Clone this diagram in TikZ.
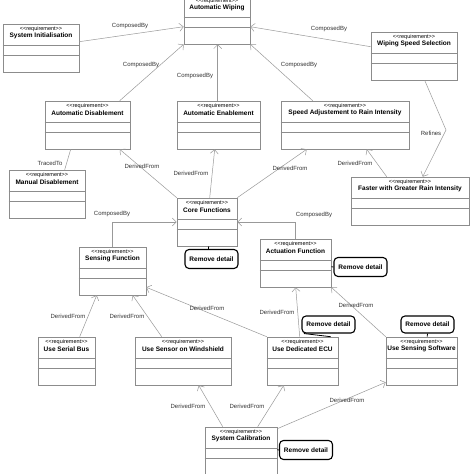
\documentclass[tikz,border=0pt]{standalone}
\usepackage{fontspec}
\setmainfont{Liberation Sans}
\usetikzlibrary{arrows.meta,calc}
\definecolor{boxgray}{HTML}{8C8C8C}
\definecolor{linegray}{HTML}{999999}
\definecolor{labelgray}{HTML}{333333}
\tikzset{
 rbox/.style={draw=boxgray, line width=0.6pt, minimum height=48pt, inner sep=0pt, fill=white},
 stereo/.style={font=\fontsize{5.5}{6}\selectfont, inner sep=0pt},
 rtitle/.style={font=\fontsize{6.5}{7}\selectfont\bfseries, inner sep=0pt},
 lbl/.style={font=\fontsize{6}{7}\selectfont, text=labelgray, inner sep=0pt},
 rel/.style={draw=linegray, line width=0.5pt, -{Straight Barb[length=4pt,width=8pt]}},
 plainrel/.style={draw=linegray, line width=0.5pt},
 rdnote/.style={draw=black, line width=1.1pt, rounded corners=4pt, fill=white, font=\fontsize{6.5}{7}\selectfont\bfseries, minimum width=53pt, minimum height=19pt, inner sep=0pt},
 notelink/.style={draw=black, line width=0.8pt},
 compline/.style={draw=boxgray, line width=0.5pt},
}
\newcommand{\req}[5]{%
  \node[rbox, minimum width=#4pt] (#1) at ({#2+#4/2},{#3+24}) {};
  \node[stereo] at ([yshift=-5pt]#1.north) {<{}<requirement>{}>};
  \node[rtitle] at ([yshift=-12.5pt]#1.north) {#5};
  \draw[compline] ([yshift=-22pt]#1.north west) -- ([yshift=-22pt]#1.north east);
  \draw[compline] ([yshift=-32pt]#1.north west) -- ([yshift=-32pt]#1.north east);
}
\begin{document}
\begin{tikzpicture}[x=1pt,y=-1pt]
\useasboundingbox[fill=white] (0,0) rectangle (474,474);
% requirement boxes
\req{AW}{184}{-4}{66}{Automatic Wiping}
\req{SI}{3}{24}{76}{System Initialisation}
\req{WSS}{371}{32}{86}{Wiping Speed Selection}
\req{AD}{45}{101}{85}{Automatic Disablement}
\req{AE}{177}{101}{83}{Automatic Enablement}
\req{SA}{281}{101}{128}{Speed Adjustement to Rain Intensity}
\req{FG}{351}{177}{118}{Faster with Greater Rain Intensity}
\req{MD}{9}{170}{76}{Manual Disablement}
\req{CF}{177}{198}{60}{Core Functions}
\req{SF}{79}{247}{67}{Sensing Function}
\req{AF}{260}{239}{71}{Actuation Function}
\req{USB}{38}{337}{57}{Use Serial Bus}
\req{USW}{135}{337}{96}{Use Sensor on Windshield}
\req{UDE}{267}{337}{71}{Use Dedicated ECU}
\req{USS}{386}{337}{71}{Use Sensing Software}
\req{SC}{205}{427}{72}{System Calibration}
% notes
\node[rdnote] (RD1) at (211.5,259) {Remove detail};
\node[rdnote] (RD2) at (360.5,267) {Remove detail};
\node[rdnote, minimum height=17pt] (RD3) at (328.5,324.5) {Remove detail};
\node[rdnote, minimum height=17pt] (RD4) at (427.5,324.5) {Remove detail};
\node[rdnote] (RD5) at (306,450) {Remove detail};
\draw[notelink] ($(CF.south west)+(32,0)$) -- ($(RD1.north west)+(24,0)$);
\draw[notelink] ($(AF.north east)+(0,28)$) -- (RD2.west);
\draw[notelink] ($(RD3.south west)+(2.5,0)$) -- ($(UDE.north west)+(64,0)$);
\draw[notelink] (RD4.south) -- ($(USS.north west)+(41.5,0)$);
\draw[notelink] ($(SC.north east)+(0,23)$) -- (RD5.west);
% composed by
\draw[rel] ($(SI.north east)+(0,18)$) -- ($(AW.north west)+(0,31)$);
\draw[rel] ($(AD.north west)+(75,0)$) -- (AW.south west);
\draw[rel] ($(AE.north west)+(41,0)$) -- ($(AW.south west)+(34,0)$);
\draw[rel] ($(SA.north west)+(32,0)$) -- (AW.south east);
\draw[rel] ($(WSS.north west)+(0,15)$) -- ($(AW.north east)+(0,31)$);
\node[lbl] at (130,26) {ComposedBy};
\node[lbl] at (141,65) {ComposedBy};
\node[lbl] at (195,76) {ComposedBy};
\node[lbl] at (299,65) {ComposedBy};
\node[lbl] at (329,29) {ComposedBy};
% refines
\coordinate (bend) at (446,130);
\draw[rel] ($(WSS.south west)+(54,0)$) -- (bend) -- ($(FG.north west)+(72,0)$);
\node[lbl] at (431,133) {Refines};
% derived from FG
\draw[rel] ($(FG.north west)+(36,0)$) -- ($(SA.south west)+(86,0)$);
\node[lbl] at (355,163) {DerivedFrom};
% traced to
\draw[plainrel] ($(AD.south west)+(26,0)$) -- ($(MD.north west)+(56,0)$);
\node[lbl] at (50,163) {TracedTo};
% core functions derived
\draw[rel] (CF.north west) -- ($(AD.south west)+(75,0)$);
\draw[rel] ($(CF.north west)+(33,0)$) -- ($(AE.south west)+(38,0)$);
\draw[rel] (CF.north east) -- ($(SA.south west)+(26,0)$);
\node[lbl] at (142,166) {DerivedFrom};
\node[lbl] at (191,173) {DerivedFrom};
\node[lbl] at (290,168) {DerivedFrom};
% composed of core
\draw[rel] ($(SF.north west)+(34,0)$) |- (CF.west);
\draw[rel] ($(AF.north west)+(36,0)$) |- (CF.east);
\node[lbl] at (112,214) {ComposedBy};
\node[lbl] at (314,215) {ComposedBy};
% lower derived
\draw[rel] ($(USB.north west)+(42,0)$) -- ($(SF.south west)+(18,0)$);
\draw[rel] ($(USW.north west)+(27,0)$) -- ($(SF.south west)+(54,0)$);
\draw[rel] (UDE.north west) -- ($(SF.south east)+(0,-8)$);
\draw[rel] ($(UDE.north west)+(33,0)$) -- ($(AF.south west)+(36,0)$);
\draw[rel] (USS.north west) -- (AF.south east);
\node[lbl] at (68,316) {DerivedFrom};
\node[lbl] at (127,316) {DerivedFrom};
\node[lbl] at (207,308) {DerivedFrom};
\node[lbl] at (277,312) {DerivedFrom};
\node[lbl] at (356,305) {DerivedFrom};
% calibration
\draw[rel] ($(SC.north west)+(18,0)$) -- ($(USW.south west)+(64,0)$);
\draw[rel] ($(SC.north west)+(53,0)$) -- ($(UDE.south west)+(17,0)$);
\draw[rel] ($(SC.north east)+(0,2)$) -- ($(USS.south west)+(0,-3)$);
\node[lbl] at (188,406) {DerivedFrom};
\node[lbl] at (247,406) {DerivedFrom};
\node[lbl] at (347,400) {DerivedFrom};
\end{tikzpicture}
\end{document}
